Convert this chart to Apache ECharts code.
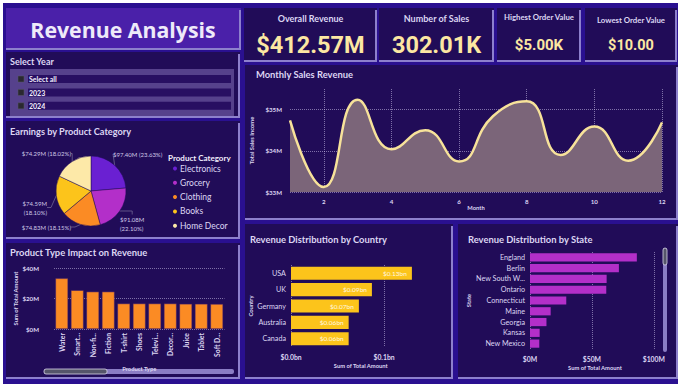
<!DOCTYPE html>
<html><head><meta charset="utf-8">
<script src="https://cdn.jsdelivr.net/npm/echarts@6/dist/echarts.min.js"></script>
<style>html,body{margin:0;padding:0;background:#fff}#c{width:680px;height:388px}</style>
</head><body><div id="c"></div>
<script>
// ---------- data ----------
const months = ['1','2','3','4','5','6','7','8','9','10','11','12'];
const monthlyRevenue = [34.74, 33.12, 35.24, 34.04, 34.50, 33.74, 34.84, 35.20, 33.90, 34.59, 33.76, 34.69];
const yearOptions = ['Select all', '2023', '2024'];
const categories = ['Electronics', 'Grocery', 'Clothing', 'Books', 'Home Decor'];
const categoryEarnings = [97.40, 91.08, 74.83, 74.59, 74.29];
const productTypes = ['Water', 'Smart...', 'Non-fi...', 'Fiction', 'T-shirt', 'Shoes', 'Televi...', 'Decor...', 'Juice', 'Tablet', 'Soft D...'];
const productRevenue = [33.2, 25.4, 24.5, 24.5, 16.7, 16.7, 16.7, 16.7, 16.5, 16.5, 16.4];
const countries = ['USA', 'UK', 'Germany', 'Australia', 'Canada'];
const countryRevenue = [0.130, 0.087, 0.073, 0.062, 0.062];
const states = ['England', 'Berlin', 'New South W...', 'Ontario', 'Connecticut', 'Maine', 'Georgia', 'Kansas', 'New Mexico'];
const stateRevenue = [86.3, 71.8, 61.9, 61.6, 29.3, 16.7, 13.3, 7.8, 7.5];
const kpiTitles = ['Overall Revenue', 'Number of Sales', 'Highest Order Value', 'Lowest Order Value'];
const kpiValues = ['$412.57M', '302.01K', '$5.00K', '$10.00'];

// ---------- style ----------
const FRAME = '#2a1090', PANEL = '#210c58', TITLEBG = '#4a20a9', EDGE = '#8d80cc';
const TXT = '#ddd6f3', VAL = '#fce7a2';
const F = "Lato, 'Noto Sans', sans-serif";
const FT = "'Open Sans', 'Noto Sans', sans-serif";
const R = "Roboto, 'Noto Sans', sans-serif";
const pieColors = ['#6a20d2', '#b32fc9', '#fb8b24', '#fcc41b', '#fde9a8'];
const pieCenter = [91, 191];
// label anchor offsets from pie centre: [dx, dy, align]
const pieLabelPos = [[22, -37, 'left'], [29, 32.5, 'left'], [-20, 36, 'right'], [-44, 16.5, 'right'], [-20, -37.5, 'right']];
const grid = { type: 'dotted', color: 'rgba(205,195,235,0.55)', width: 1 };

const g = [];
g.push({ type: 'rect', shape: { x: 3, y: 3, width: 675, height: 381 }, style: { fill: FRAME }, silent: true });
function panel(x, y, w, h, fill) {
  g.push({ type: 'rect', shape: { x, y, width: w, height: h }, style: { fill: fill || PANEL }, silent: true });
  g.push({ type: 'rect', shape: { x: x + w - 2, y: y + 2, width: 2, height: h - 2 }, style: { fill: EDGE }, silent: true });
  g.push({ type: 'rect', shape: { x: x, y: y + h - 2, width: w, height: 2 }, style: { fill: EDGE }, silent: true });
}
function text(x, y, t, font, fill, align) {
  g.push({ type: 'text', x, y, style: { text: t, font, fill: fill || TXT, align: align || 'left', verticalAlign: 'middle' }, silent: true });
}
panel(6, 8, 235, 42, TITLEBG);
text(123, 29, 'Revenue Analysis', "bold 21.3px " + FT, '#eeeaf9', 'center');
panel(6, 52, 234, 66);
text(10, 61, 'Select Year', "bold 9px " + F);
g.push({ type: 'rect', shape: { x: 10, y: 69, width: 224, height: 47 }, style: { fill: '#56418c' }, silent: true });
yearOptions.forEach((o, i) => {
  const yy = 75 + i * 13.4;
  g.push({ type: 'rect', shape: { x: 28, y: yy, width: 203, height: 8 }, style: { fill: '#280f62' }, silent: true });
  g.push({ type: 'rect', shape: { x: 18, y: yy + 1, width: 6, height: 6 }, style: { fill: '#2a2830', stroke: '#5a5868', lineWidth: 0.5 }, silent: true });
  text(29, yy + 4.2, o, "bold 7px " + F, '#f2eefc');
});
panel(6, 121, 234, 118);
text(10, 131, 'Earnings by Product Category', "bold 9.2px " + F);
text(168, 158, 'Product Category', "bold 8px " + F, '#f2eefc');
panel(6, 243, 234, 136);
text(10, 252, 'Product Type Impact on Revenue', "bold 9.4px " + F);
// scrollbar
g.push({ type: 'rect', shape: { x: 44, y: 369, width: 190, height: 5, r: 2 }, style: { fill: '#8a7dc4' }, silent: true });
g.push({ type: 'rect', shape: { x: 44, y: 369, width: 63, height: 5, r: 2 }, style: { fill: '#55556a', stroke: '#d8d4e8', lineWidth: 0.8 }, silent: true });
// KPI cards
const cards = [[244, 133], [379, 115], [497, 84], [585, 92]];
const kpiTitleFont = [9, 9, 7.8, 7.8];
const kpiValFont = [23.5, 23.5, 15, 14.5];
cards.forEach((c, i) => {
  panel(c[0], 8, c[1], 54);
  text(c[0] + c[1] / 2, i < 2 ? 18 : (i === 2 ? 17 : 20), kpiTitles[i], "bold " + kpiTitleFont[i] + "px " + F, TXT, 'center');
  text(c[0] + c[1] / 2, 45, kpiValues[i], "bold " + kpiValFont[i] + "px " + R, VAL, 'center');
});
panel(245, 65, 433, 155);
text(256, 74, 'Monthly Sales Revenue', "bold 9.4px " + F);
panel(245, 224, 208, 155);
text(250, 239, 'Revenue Distribution by Country', "bold 9.4px " + F);
panel(458, 224, 220, 155);
text(468, 239, 'Revenue Distribution by State', "bold 9.4px " + F);
// state scrollbar
g.push({ type: 'rect', shape: { x: 663, y: 248, width: 4, height: 104, r: 2 }, style: { fill: '#8a7dc4' }, silent: true });
g.push({ type: 'rect', shape: { x: 663, y: 248, width: 4, height: 17, r: 2 }, style: { fill: '#55556a', stroke: '#d8d4e8', lineWidth: 0.8 }, silent: true });

const axisLab = { color: TXT, fontSize: 6.2, fontWeight: 'bold', fontFamily: F };
const nameStyle = { color: TXT, fontSize: 5.8, fontWeight: 'bold', fontFamily: F };

const chart = echarts.init(document.getElementById('c'), null, { renderer: 'svg' });
chart.setOption({
  animation: false,
  backgroundColor: '#ffffff',
  graphic: { elements: g },
  legend: {
    data: categories, orient: 'vertical', left: 166, top: 159, itemGap: 5.3,
    icon: 'circle', itemWidth: 6, itemHeight: 6,
    textStyle: { color: TXT, fontSize: 8.5, fontFamily: F, padding: [0, 0, 0, -3] }
  },
  grid: [
    { left: 290, right: 18, top: 89, bottom: 196 },
    { left: 54, right: 455.5, top: 268, bottom: 59 },
    { left: 291, right: 249.5, top: 265, bottom: 41 },
    { left: 530, right: 20, top: 252, bottom: 39 }
  ],
  xAxis: [
    { gridIndex: 0, type: 'category', data: months, boundaryGap: false,
      axisLine: { show: false }, axisTick: { show: false },
      axisLabel: Object.assign({ interval: (i) => i % 2 === 1, margin: 6 }, axisLab),
      splitLine: { show: true, interval: (i) => i % 2 === 1, lineStyle: grid },
      name: 'Month', nameLocation: 'middle', nameGap: 11, nameTextStyle: nameStyle },
    { gridIndex: 1, type: 'category', data: productTypes,
      axisLine: { show: false }, axisTick: { show: false },
      axisLabel: Object.assign({ rotate: 90, interval: 0, margin: 4 }, axisLab, { fontSize: 6.8 }),
      name: 'Product Type', nameLocation: 'middle', nameGap: 36, nameTextStyle: nameStyle },
    { gridIndex: 2, type: 'value', min: 0, max: 0.15, interval: 0.1,
      axisLabel: Object.assign({ formatter: (v) => '$' + v.toFixed(1) + 'bn', margin: 6, showMaxLabel: false }, axisLab, { fontSize: 6.8 }),
      splitLine: { lineStyle: grid, showMaxLine: false },
      name: 'Sum of Total Amount', nameLocation: 'middle', nameGap: 15, nameTextStyle: nameStyle },
    { gridIndex: 3, type: 'value', min: 0, max: 105, interval: 50,
      axisLabel: Object.assign({ formatter: (v) => '$' + v + 'M', margin: 6, showMaxLabel: false }, axisLab, { fontSize: 6.8 }),
      splitLine: { lineStyle: grid, showMaxLine: false },
      name: 'Sum of Total Amount', nameLocation: 'middle', nameGap: 15, nameTextStyle: nameStyle }
  ],
  yAxis: [
    { gridIndex: 0, type: 'value', min: 33, max: 35.5, interval: 1,
      axisLabel: Object.assign({ formatter: (v) => '$' + v + 'M', margin: 8, showMaxLabel: false }, axisLab),
      splitLine: { lineStyle: grid, showMaxLine: false },
      name: 'Total Sales Income', nameLocation: 'middle', nameGap: 18, nameTextStyle: nameStyle },
    { gridIndex: 1, type: 'value', min: 0, max: 40, interval: 20,
      axisLabel: Object.assign({ formatter: (v) => '$' + v + 'M', margin: 15 }, axisLab),
      splitLine: { lineStyle: grid },
      name: 'Sum of Total Amount', nameLocation: 'middle', nameGap: 20, nameTextStyle: nameStyle },
    { gridIndex: 2, type: 'category', data: countries, inverse: true,
      axisLine: { show: false }, axisTick: { show: false },
      axisLabel: Object.assign({ margin: 5 }, axisLab, { fontSize: 7.2, fontWeight: 'normal' }),
      name: 'Country', nameLocation: 'middle', nameGap: 6, nameTextStyle: nameStyle },
    { gridIndex: 3, type: 'category', data: states, inverse: true,
      axisLine: { show: false }, axisTick: { show: false },
      axisLabel: Object.assign({ margin: 5 }, axisLab, { fontSize: 7.2, fontWeight: 'normal' }),
      name: 'State', nameLocation: 'middle', nameGap: 8, nameTextStyle: nameStyle }
  ],
  series: [
    { type: 'line', xAxisIndex: 0, yAxisIndex: 0, data: monthlyRevenue, smooth: true, symbol: 'none',
      lineStyle: { color: '#f7e29a', width: 2.5 }, areaStyle: { color: '#7b6579', opacity: 1 } },
    { type: 'bar', xAxisIndex: 1, yAxisIndex: 1, data: productRevenue, barCategoryGap: '18%',
      itemStyle: { color: '#fb8b24', borderColor: '#3a1a70', borderWidth: 0.5 } },
    { type: 'bar', xAxisIndex: 2, yAxisIndex: 2, data: countryRevenue, barCategoryGap: '20%',
      itemStyle: { color: '#fcc41b' },
      label: { show: true, position: 'insideRight', color: '#fff8e0', fontSize: 6.5, fontFamily: F,
        formatter: (p) => '$' + p.value.toFixed(2) + 'bn' } },
    { type: 'bar', xAxisIndex: 3, yAxisIndex: 3, data: stateRevenue, barCategoryGap: '24%',
      itemStyle: { color: '#b32fc9' } },
    { type: 'pie', center: pieCenter, radius: 35, startAngle: 90, clockwise: true,
      data: categories.map((c, i) => ({ name: c, value: categoryEarnings[i], itemStyle: { color: pieColors[i] } })),
      itemStyle: { borderColor: '#210c58', borderWidth: 0.5 },
      label: { color: '#cfc8e6', fontSize: 6, fontFamily: F, lineHeight: 9, overflow: 'none',
        formatter: (p) => '$' + p.value.toFixed(2) + 'M' + ((p.dataIndex === 1 || p.dataIndex === 3) ? '\n' : ' ') + '(' + p.percent.toFixed(2) + '%)' },
      labelLine: { length: 4, length2: 4, lineStyle: { color: '#8a82a8', width: 0.6 } },
      labelLayout: (p) => {
        const o = pieLabelPos[p.dataIndex];
        return { x: pieCenter[0] + o[0], y: pieCenter[1] + o[1], align: o[2], verticalAlign: 'middle' };
      } }
  ]
});
</script></body></html>
